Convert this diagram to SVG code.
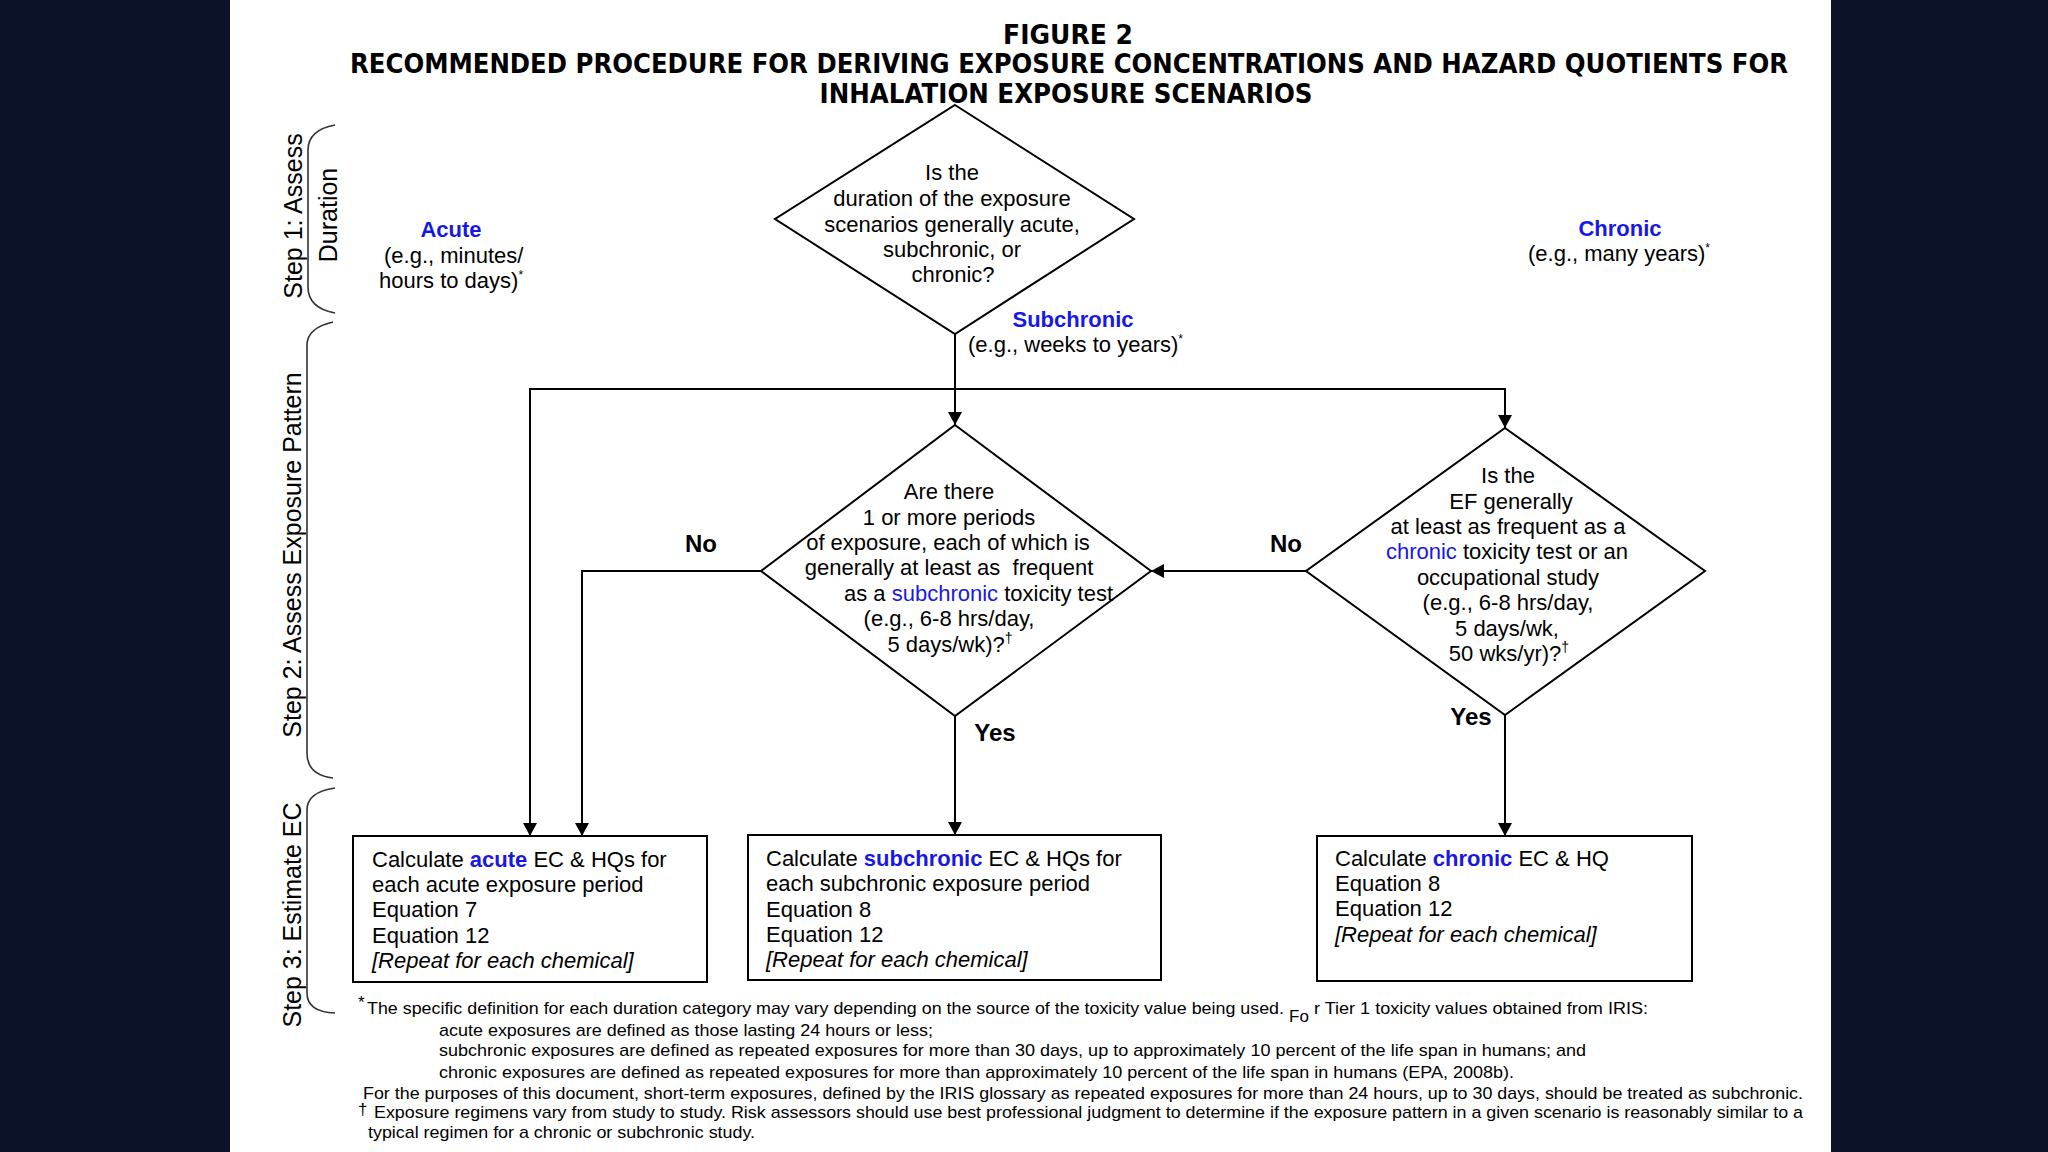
<svg xmlns="http://www.w3.org/2000/svg" width="2048" height="1152" viewBox="0 0 2048 1152">
<style>
.t{font-family:"Liberation Sans",Arial,sans-serif;font-size:22px;fill:#000}
.b{font-weight:bold}
.blue{fill:#1818e6}
.i{font-style:italic}
.m{text-anchor:middle}
.title{font-family:"DejaVu Sans",sans-serif;font-weight:bold;font-size:26px;text-anchor:middle;fill:#000}
.step{font-family:"Liberation Sans",Arial,sans-serif;font-size:25px;text-anchor:middle;fill:#000}
.fn{font-family:"Liberation Sans",Arial,sans-serif;font-size:17px;fill:#000}
.shape{fill:#fff;stroke:#000;stroke-width:2}
.con{fill:none;stroke:#000;stroke-width:2}
.br{fill:none;stroke:#333;stroke-width:1.6}
.lbl{font-family:"Liberation Sans",Arial,sans-serif;font-size:24px;font-weight:bold;text-anchor:middle;fill:#000}
</style>
<defs>
<marker id="arr" markerUnits="userSpaceOnUse" markerWidth="14" markerHeight="14" refX="13" refY="7" orient="auto">
<path d="M0,0 L13,7 L0,14 Z" fill="#000"/>
</marker>
</defs>
<rect x="0" y="0" width="2048" height="1152" fill="#0b1229"/>
<rect x="230" y="0" width="1601" height="1152" fill="#fff"/>

<g id="title">
<text class="title" x="1068" y="44" textLength="130" lengthAdjust="spacingAndGlyphs">FIGURE 2</text>
<text class="title" x="1069" y="73" textLength="1438" lengthAdjust="spacingAndGlyphs">RECOMMENDED PROCEDURE FOR DERIVING EXPOSURE CONCENTRATIONS AND HAZARD QUOTIENTS FOR</text>
<text class="title" x="1066" y="103" textLength="493" lengthAdjust="spacingAndGlyphs">INHALATION EXPOSURE SCENARIOS</text>
</g>

<g id="steps">
<text class="step" transform="translate(302,216) rotate(-90)">Step 1: Assess</text>
<text class="step" transform="translate(337,215) rotate(-90)">Duration</text>
<text class="step" transform="translate(301,555) rotate(-90)">Step 2: Assess Exposure Pattern</text>
<text class="step" transform="translate(301,915) rotate(-90)">Step 3: Estimate EC</text>
<path class="br" d="M335,125 Q308,130 308,150 V287 Q308,308 335,313"/>
<path class="br" d="M333,322 Q307,328 307,345 V753 Q307,775 333,778"/>
<path class="br" d="M335,788 Q307,792 307,810 V993 Q307,1012 335,1013"/>
</g>

<g id="connectors">
<path class="con" d="M955,334 V389"/>
<path class="con" d="M955,389 H530 V836" marker-end="url(#arr)"/>
<path class="con" d="M955,389 H1505 V428" marker-end="url(#arr)"/>
<path class="con" d="M955,389 V425" marker-end="url(#arr)"/>
<path class="con" d="M761,571 H582 V836" marker-end="url(#arr)"/>
<path class="con" d="M1306,571 H1151" marker-end="url(#arr)"/>
<path class="con" d="M955,716 V835" marker-end="url(#arr)"/>
<path class="con" d="M1505,715 V836" marker-end="url(#arr)"/>
<text class="lbl" x="701" y="552">No</text>
<text class="lbl" x="1286" y="552">No</text>
<text class="lbl" x="995" y="741">Yes</text>
<text class="lbl" x="1471" y="725">Yes</text>
</g>

<g id="duration-decision">
<polygon class="shape" points="955,105 1134,219 955,334 775,219"/>
<text class="t m" x="952" y="180">Is the</text>
<text class="t m" x="952" y="206">duration of the exposure</text>
<text class="t m" x="952" y="232">scenarios generally acute,</text>
<text class="t m" x="952" y="257">subchronic, or</text>
<text class="t m" x="953" y="282">chronic?</text>
</g>

<g id="acute-label">
<text class="t m b blue" x="451" y="237">Acute</text>
<text class="t" x="384" y="263">(e.g., minutes/</text>
<text class="t" x="379" y="288">hours to days)<tspan font-size="12" dy="-9">*</tspan></text>
</g>

<g id="subchronic-label">
<text class="t m b blue" x="1073" y="327">Subchronic</text>
<text class="t" x="968" y="352">(e.g., weeks to years)<tspan font-size="12" dy="-9">*</tspan></text>
</g>

<g id="chronic-label">
<text class="t m b blue" x="1620" y="236">Chronic</text>
<text class="t" x="1528" y="261">(e.g., many years)<tspan font-size="12" dy="-9">*</tspan></text>
</g>

<g id="subchronic-frequency-decision">
<polygon class="shape" points="955,425 1151,571 955,716 761,571"/>
<text class="t m" x="949" y="499">Are there</text>
<text class="t m" x="949" y="525">1 or more periods</text>
<text class="t m" x="948" y="550">of exposure, each of which is</text>
<text class="t m" x="949" y="575" xml:space="preserve">generally at least as  frequent</text>
<text class="t" x="844" y="601">as a <tspan class="blue">subchronic</tspan> toxicity test</text>
<text class="t m" x="949" y="626">(e.g., 6-8 hrs/day,</text>
<text class="t m" x="950" y="652">5 days/wk)?<tspan font-size="14" dy="-9">†</tspan></text>
</g>

<g id="chronic-frequency-decision">
<polygon class="shape" points="1505,428 1705,571 1505,715 1306,571"/>
<text class="t m" x="1508" y="483">Is the</text>
<text class="t m" x="1511" y="509">EF generally</text>
<text class="t m" x="1508" y="534">at least as frequent as a</text>
<text class="t m" x="1507" y="559"><tspan class="blue">chronic</tspan> toxicity test or an</text>
<text class="t m" x="1508" y="585">occupational study</text>
<text class="t m" x="1508" y="610">(e.g., 6-8 hrs/day,</text>
<text class="t m" x="1507" y="636">5 days/wk,</text>
<text class="t m" x="1509" y="661">50 wks/yr)?<tspan font-size="14" dy="-9">†</tspan></text>
</g>

<g id="acute-box">
<rect class="shape" x="353" y="836" width="354" height="146"/>
<text class="t" x="372" y="867">Calculate <tspan class="b blue">acute</tspan> EC &amp; HQs for</text>
<text class="t" x="372" y="892">each acute exposure period</text>
<text class="t" x="372" y="917">Equation 7</text>
<text class="t" x="372" y="943">Equation 12</text>
<text class="t i" x="372" y="968">[Repeat for each chemical]</text>
</g>

<g id="subchronic-box">
<rect class="shape" x="748" y="835" width="413" height="145"/>
<text class="t" x="766" y="866">Calculate <tspan class="b blue">subchronic</tspan> EC &amp; HQs for</text>
<text class="t" x="766" y="891">each subchronic exposure period</text>
<text class="t" x="766" y="917">Equation 8</text>
<text class="t" x="766" y="942">Equation 12</text>
<text class="t i" x="766" y="967">[Repeat for each chemical]</text>
</g>

<g id="chronic-box">
<rect class="shape" x="1317" y="836" width="375" height="145"/>
<text class="t" x="1335" y="866">Calculate <tspan class="b blue">chronic</tspan> EC &amp; HQ</text>
<text class="t" x="1335" y="891">Equation 8</text>
<text class="t" x="1335" y="916">Equation 12</text>
<text class="t i" x="1335" y="942">[Repeat for each chemical]</text>
</g>

<g id="footnotes">
<text class="fn" x="358" y="1008" font-size="11">*</text>
<text class="fn" x="367" y="1014" textLength="917" lengthAdjust="spacingAndGlyphs">The specific definition for each duration category may vary depending on the source of the toxicity value being used.</text>
<text class="fn" x="1289" y="1022" font-size="18">Fo</text>
<text class="fn" x="1314" y="1014" textLength="334" lengthAdjust="spacingAndGlyphs">r Tier 1 toxicity values obtained from IRIS:</text>
<text class="fn" x="439" y="1036" textLength="494" lengthAdjust="spacingAndGlyphs">acute exposures are defined as those lasting 24 hours or less;</text>
<text class="fn" x="439" y="1056" textLength="1147" lengthAdjust="spacingAndGlyphs">subchronic exposures are defined as repeated exposures for more than 30 days, up to approximately 10 percent of the life span in humans; and</text>
<text class="fn" x="439" y="1078" textLength="1075" lengthAdjust="spacingAndGlyphs">chronic exposures are defined as repeated exposures for more than approximately 10 percent of the life span in humans (EPA, 2008b).</text>
<text class="fn" x="363" y="1099" textLength="1440" lengthAdjust="spacingAndGlyphs">For the purposes of this document, short-term exposures, defined by the IRIS glossary as repeated exposures for more than 24 hours, up to 30 days, should be treated as subchronic.</text>
<text class="fn" x="358" y="1115" font-size="12">†</text>
<text class="fn" x="374" y="1118" textLength="1429" lengthAdjust="spacingAndGlyphs">Exposure regimens vary from study to study. Risk assessors should use best professional judgment to determine if the exposure pattern in a given scenario is reasonably similar to a</text>
<text class="fn" x="368" y="1138" textLength="387" lengthAdjust="spacingAndGlyphs">typical regimen for a chronic or subchronic study.</text>
</g>
</svg>
